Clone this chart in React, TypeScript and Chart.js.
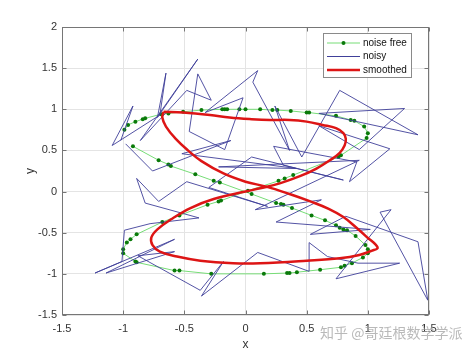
import React, { useEffect, useRef } from "react";
import { Chart, registerables } from "chart.js";
Chart.register(...registerables);

const xTicks = [-1.5, -1, -0.5, 0, 0.5, 1, 1.5];
const yTicks = [-1.5, -1, -0.5, 0, 0.5, 1, 1.5, 2];

const noiseFreeX = [-0.99, -0.96, -0.9, -0.84, -0.82, -0.69, -0.63, -0.51, -0.36, -0.19, -0.17, -0.15, -0.05, 0.0, 0.12, 0.22, 0.26, 0.37, 0.5, 0.52, 0.74, 0.86, 0.89, 0.97, 1.0, 0.99, 0.78, 0.76, 0.39, 0.32, 0.27, 0.02, -0.2, -0.22, -0.31, -0.54, -0.68, -0.89, -0.94, -0.97, -1.0, -1.0, -0.9, -0.89, -0.58, -0.54, -0.28, 0.15, 0.34, 0.36, 0.42, 0.61, 0.78, 0.81, 0.87, 0.96, 1.0, 1.0, 0.98, 0.9, 0.83, 0.8, 0.77, 0.74, 0.65, 0.54, 0.38, 0.31, 0.29, 0.25, 0.05, -0.21, -0.26, -0.41, -0.61, -0.63, -0.71, -0.92];
const noiseFreeY = [0.75, 0.81, 0.85, 0.88, 0.89, 0.94, 0.95, 0.97, 0.99, 1.0, 1.0, 1.0, 1.0, 1.0, 1.0, 0.99, 0.99, 0.98, 0.96, 0.96, 0.92, 0.87, 0.86, 0.79, 0.71, 0.65, 0.44, 0.42, 0.2, 0.16, 0.13, 0.01, -0.11, -0.12, -0.16, -0.29, -0.37, -0.52, -0.58, -0.62, -0.7, -0.75, -0.85, -0.86, -0.96, -0.96, -1.0, -1.0, -0.99, -0.99, -0.98, -0.95, -0.92, -0.9, -0.87, -0.8, -0.75, -0.7, -0.65, -0.54, -0.47, -0.46, -0.44, -0.41, -0.35, -0.29, -0.2, -0.16, -0.15, -0.14, -0.03, 0.11, 0.13, 0.21, 0.31, 0.33, 0.38, 0.55];

const noisyX = [-1.02, -0.92, -1.09, -0.7, -0.65, -0.72, -0.39, -0.86, -0.48, -0.28, -0.39, -0.46, -0.17, -0.02, -0.33, 0.1, 0.06, 0.36, 0.24, 0.46, 0.77, 1.41, 0.6, 1.3, 0.93, 0.6, 1.18, 0.85, 0.91, 0.23, 0.31, 0.8, 0.05, -0.3, 0.18, -0.48, -0.71, -0.89, -0.82, -0.38, -0.78, -0.99, -1.01, -1.23, -0.58, -1.14, -0.58, -0.88, -0.37, -0.18, -0.36, 0.1, 0.52, 0.52, 0.67, 0.92, 1.26, 0.74, 1.19, 1.1, 1.49, 1.41, 0.82, 0.53, 1.02, 0.25, 0.62, 0.08, 0.93, -0.22, 0.42, -0.52, -0.12, -0.76, -0.98];
const noisyY = [0.62, 1.04, 0.56, 0.93, 1.44, 0.9, 1.61, 0.62, 1.23, 1.11, 1.43, 0.73, 0.51, 1.14, 0.96, 1.47, 1.33, 0.5, 1.04, 0.42, 1.23, 0.69, 0.95, 1.01, 0.51, 0.8, 0.52, 0.12, 0.36, 0.55, 0.32, 0.14, 0.42, 0.05, -0.18, 0.12, -0.12, 0.16, -0.14, -0.32, -0.39, -0.47, -0.85, -0.99, -0.58, -0.99, -0.73, -0.78, -1.2, -0.85, -1.27, -0.74, -0.97, -0.62, -0.79, -0.87, -0.87, -1.06, -0.22, -0.25, -1.32, -0.61, -0.3, -0.52, -0.46, -0.37, -0.1, -0.22, 0.38, 0.3, 0.28, 0.46, 0.62, 0.25, 0.58];

const smoothedX = [-0.67, -0.51, -0.29, -0.13, 0.05, 0.2, 0.36, 0.5, 0.63, 0.74, 0.8, 0.82, 0.81, 0.77, 0.69, 0.58, 0.45, 0.28, 0.12, 0.0, -0.26, -0.45, -0.6, -0.72, -0.77, -0.76, -0.7, -0.56, -0.37, -0.1, 0.12, 0.5, 0.77, 0.93, 1.03, 1.08, 0.99, 0.9, 0.8, 0.68, 0.53, 0.36, 0.17, 0.0, -0.18, -0.36, -0.47, -0.57, -0.65, -0.68, -0.67];
const smoothedY = [0.97, 0.96, 0.93, 0.9, 0.88, 0.87, 0.87, 0.85, 0.81, 0.77, 0.71, 0.64, 0.56, 0.47, 0.38, 0.28, 0.19, 0.1, 0.04, 0.0, -0.09, -0.2, -0.33, -0.46, -0.56, -0.65, -0.73, -0.79, -0.84, -0.87, -0.87, -0.84, -0.81, -0.77, -0.72, -0.68, -0.55, -0.43, -0.31, -0.21, -0.12, -0.03, 0.06, 0.12, 0.22, 0.37, 0.5, 0.64, 0.79, 0.9, 0.97];

const legendLabels = ["noise free", "noisy", "smoothed"];
const watermark = "知乎 @哥廷根数学学派";

const GREEN_LINE = "#77dd77";
const GREEN_DOT = "#0a7a0a";
const BLUE = "#40409a";
const RED = "#dd1515";
const FONT = '"Liberation Sans", Arial, sans-serif';

const toPts = (xs: number[], ys: number[]) => xs.map((x, i) => ({ x, y: ys[i] }));

const overlay = {
  id: "overlay",
  afterDraw(chart: any) {
    const { ctx, chartArea: a } = chart;
    const xs = chart.scales.x;
    const ys = chart.scales.y;
    ctx.save();
    const L = Math.round(a.left) + 0.5, R = Math.round(a.right) - 0.5;
    const T = Math.round(a.top) + 0.5, B = Math.round(a.bottom) - 0.5;
    ctx.strokeStyle = "#767676";
    ctx.lineWidth = 1;
    ctx.strokeRect(L, T, R - L, B - T);
    ctx.beginPath();
    xTicks.forEach((v) => {
      const p = Math.round(xs.getPixelForValue(v)) + 0.5;
      ctx.moveTo(p, B); ctx.lineTo(p, B - 4);
      ctx.moveTo(p, T); ctx.lineTo(p, T + 4);
    });
    yTicks.forEach((v) => {
      const p = Math.round(ys.getPixelForValue(v)) + 0.5;
      ctx.moveTo(L, p); ctx.lineTo(L + 4, p);
      ctx.moveTo(R, p); ctx.lineTo(R - 4, p);
    });
    ctx.stroke();

    // legend
    const lx = 323.5, ly = 33.5, lw = 88, lh = 44;
    ctx.fillStyle = "#ffffff";
    ctx.fillRect(lx, ly, lw, lh);
    ctx.strokeStyle = "#8a8a8a";
    ctx.lineWidth = 1;
    ctx.strokeRect(lx, ly, lw, lh);
    const rows = [43, 56.5, 70];
    ctx.font = `10px ${FONT}`;
    ctx.textBaseline = "middle";
    ctx.textAlign = "left";
    ctx.strokeStyle = GREEN_LINE; ctx.lineWidth = 1;
    ctx.beginPath(); ctx.moveTo(327, rows[0]); ctx.lineTo(360, rows[0]); ctx.stroke();
    ctx.fillStyle = GREEN_DOT;
    ctx.beginPath(); ctx.arc(343.5, rows[0], 2, 0, Math.PI * 2); ctx.fill();
    ctx.strokeStyle = BLUE; ctx.lineWidth = 1;
    ctx.beginPath(); ctx.moveTo(327, rows[1]); ctx.lineTo(360, rows[1]); ctx.stroke();
    ctx.strokeStyle = RED; ctx.lineWidth = 2.5;
    ctx.beginPath(); ctx.moveTo(327, rows[2]); ctx.lineTo(360, rows[2]); ctx.stroke();
    ctx.fillStyle = "#111";
    legendLabels.forEach((t, i) => ctx.fillText(t, 363, rows[i]));

    // axis titles
    ctx.fillStyle = "#333";
    ctx.font = `12px ${FONT}`;
    ctx.textAlign = "center";
    ctx.fillText("x", (a.left + a.right) / 2, 345);
    ctx.save();
    ctx.translate(31, (a.top + a.bottom) / 2);
    ctx.rotate(-Math.PI / 2);
    ctx.fillText("y", 0, 0);
    ctx.restore();

    // watermark
    ctx.font = `14px "Noto Sans CJK SC", sans-serif`;
    ctx.textAlign = "left";
    ctx.fillStyle = "rgba(155,155,155,0.7)";
    ctx.fillText(watermark, 320, 333);
    ctx.restore();
  },
};

export default function App() {
  const ref = useRef<HTMLCanvasElement | null>(null);
  useEffect(() => {
    document.body.style.margin = "0";
    const canvas = ref.current!;
    const chart = new Chart(canvas, {
      type: "scatter",
      data: {
        datasets: [
          {
            label: legendLabels[0],
            data: toPts(noiseFreeX, noiseFreeY),
            showLine: true,
            borderColor: GREEN_LINE,
            borderWidth: 1,
            pointRadius: 2,
            pointBackgroundColor: GREEN_DOT,
            pointBorderWidth: 0,
            tension: 0,
            order: 3,
          },
          {
            label: legendLabels[1],
            data: toPts(noisyX, noisyY),
            showLine: true,
            borderColor: BLUE,
            borderWidth: 0.9,
            pointRadius: 0,
            tension: 0,
            order: 2,
          },
          {
            label: legendLabels[2],
            data: toPts(smoothedX, smoothedY),
            showLine: true,
            borderColor: RED,
            borderWidth: 2.5,
            pointRadius: 0,
            tension: 0.4,
            order: 1,
          },
        ],
      },
      options: {
        responsive: false,
        animation: false,
        devicePixelRatio: 1,
        layout: { padding: { left: 22, right: 45, top: 27, bottom: 10 } },
        plugins: { legend: { display: false }, tooltip: { enabled: false } },
        scales: {
          x: {
            type: "linear",
            min: -1.5,
            max: 1.5,
            afterBuildTicks: (s: any) => { s.ticks = xTicks.map((v) => ({ value: v })); },
            afterFit: (s: any) => { s.height = 30; },
            grid: { color: "#e4e4e4", drawTicks: false },
            border: { display: false },
            ticks: { padding: 7, color: "#333", font: { family: FONT, size: 11 }, callback: (v: any) => String(v) },
          },
          y: {
            type: "linear",
            min: -1.5,
            max: 2,
            afterBuildTicks: (s: any) => { s.ticks = yTicks.map((v) => ({ value: v })); },
            afterFit: (s: any) => { s.width = 40; },
            grid: { color: "#e4e4e4", drawTicks: false },
            border: { display: false },
            ticks: { padding: 5, color: "#333", font: { family: FONT, size: 11 }, callback: (v: any) => String(v) },
          },
        },
      },
      plugins: [overlay],
    });
    return () => chart.destroy();
  }, []);
  return (
    <div style={{ position: "absolute", left: 0, top: 0, width: 474, height: 355, background: "#fff" }}>
      <canvas ref={ref} width={474} height={355} style={{ width: 474, height: 355 }} />
    </div>
  );
}
